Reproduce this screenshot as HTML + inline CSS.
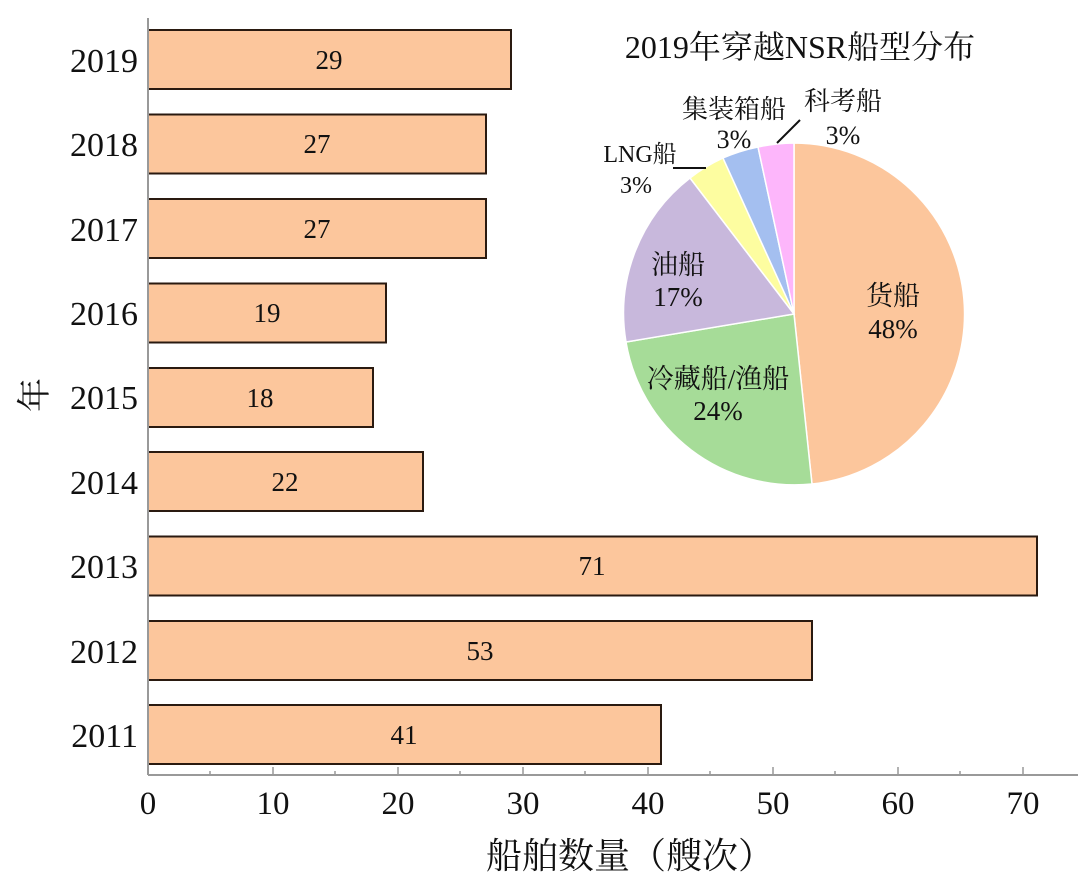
<!DOCTYPE html>
<html><head><meta charset="utf-8"><style>body{margin:0;background:#fff}</style></head><body>
<svg width="1080" height="880" viewBox="0 0 1080 880" xmlns="http://www.w3.org/2000/svg" font-family="'Liberation Serif','Noto Serif CJK SC',serif">
<g stroke="#2a1a10" stroke-width="2" fill="#fcc69c">
<rect x="148" y="30" width="363" height="59"/>
<rect x="148" y="114.5" width="338" height="59"/>
<rect x="148" y="199" width="338" height="59"/>
<rect x="148" y="283.5" width="238" height="59"/>
<rect x="148" y="368" width="225" height="59"/>
<rect x="148" y="452" width="275" height="59"/>
<rect x="148" y="536.5" width="889" height="59"/>
<rect x="148" y="621" width="664" height="59"/>
<rect x="148" y="705" width="513" height="59"/>
</g>
<line x1="148" y1="18" x2="148" y2="775" stroke="#999" stroke-width="2"/>
<line x1="148" y1="775" x2="1078" y2="775" stroke="#999" stroke-width="2"/>
<g stroke="#999" stroke-width="1.5">
<line x1="273" y1="767" x2="273" y2="775"/><line x1="398" y1="767" x2="398" y2="775"/><line x1="523" y1="767" x2="523" y2="775"/><line x1="648" y1="767" x2="648" y2="775"/><line x1="773" y1="767" x2="773" y2="775"/><line x1="898" y1="767" x2="898" y2="775"/><line x1="1023" y1="767" x2="1023" y2="775"/>
<line x1="210" y1="771" x2="210" y2="775"/><line x1="335" y1="771" x2="335" y2="775"/><line x1="460" y1="771" x2="460" y2="775"/><line x1="585" y1="771" x2="585" y2="775"/><line x1="710" y1="771" x2="710" y2="775"/><line x1="835" y1="771" x2="835" y2="775"/><line x1="960" y1="771" x2="960" y2="775"/>
</g>
<g font-size="34" fill="#111" text-anchor="end">
<text x="138" y="72">2019</text><text x="138" y="156">2018</text><text x="138" y="241">2017</text><text x="138" y="325">2016</text><text x="138" y="409">2015</text><text x="138" y="494">2014</text><text x="138" y="578">2013</text><text x="138" y="663">2012</text><text x="138" y="747">2011</text>
</g>
<g font-size="27" fill="#111" text-anchor="middle">
<text x="329" y="69">29</text><text x="317" y="153">27</text><text x="317" y="238">27</text><text x="267" y="322">19</text><text x="260" y="407">18</text><text x="285" y="491">22</text><text x="592" y="575">71</text><text x="480" y="660">53</text><text x="404" y="744">41</text>
</g>
<g font-size="33" fill="#111" text-anchor="middle">
<text x="148" y="814">0</text><text x="273" y="814">10</text><text x="398" y="814">20</text><text x="523" y="814">30</text><text x="648" y="814">40</text><text x="773" y="814">50</text><text x="898" y="814">60</text><text x="1023" y="814">70</text>
<text x="630" y="868" font-size="36">船舶数量（艘次）</text>
<text x="0" y="0" transform="translate(46,395) rotate(-90)" font-size="34">年</text>
</g>
<g stroke="#fff" stroke-width="1.5">
<path d="M794,314 L794,143 A171,171 0 0 1 812,484 Z" fill="#fcc69c"/>
<path d="M794,314 L812,484 A171,171 0 0 1 626,342 Z" fill="#a6dc98"/>
<path d="M794,314 L626,342 A171,171 0 0 1 690,178 Z" fill="#c8b8dc"/>
<path d="M794,314 L690,178 A171,171 0 0 1 723,158 Z" fill="#fdfda0"/>
<path d="M794,314 L723,158 A171,171 0 0 1 758,147 Z" fill="#a4bff0"/>
<path d="M794,314 L758,147 A171,171 0 0 1 794,143 Z" fill="#fdb6fb"/>
</g>
<g stroke="#111" stroke-width="2">
<line x1="673" y1="168" x2="706" y2="168"/><line x1="777" y1="143" x2="800" y2="120"/>
</g>
<g font-size="27" fill="#111" text-anchor="middle">
<text x="800" y="58" font-size="32">2019年穿越NSR船型分布</text>
<text x="893" y="305">货船</text><text x="893" y="338">48%</text>
<text x="718" y="388">冷藏船/渔船</text><text x="718" y="420">24%</text>
<text x="678" y="274">油船</text><text x="678" y="306">17%</text>
<text x="640" y="162" font-size="24">LNG船</text><text x="636" y="193" font-size="24">3%</text>
<text x="734" y="118" font-size="26">集装箱船</text><text x="734" y="148" font-size="26">3%</text>
<text x="843" y="110" font-size="26">科考船</text><text x="843" y="144" font-size="26">3%</text>
</g>
</svg>
</body></html>
